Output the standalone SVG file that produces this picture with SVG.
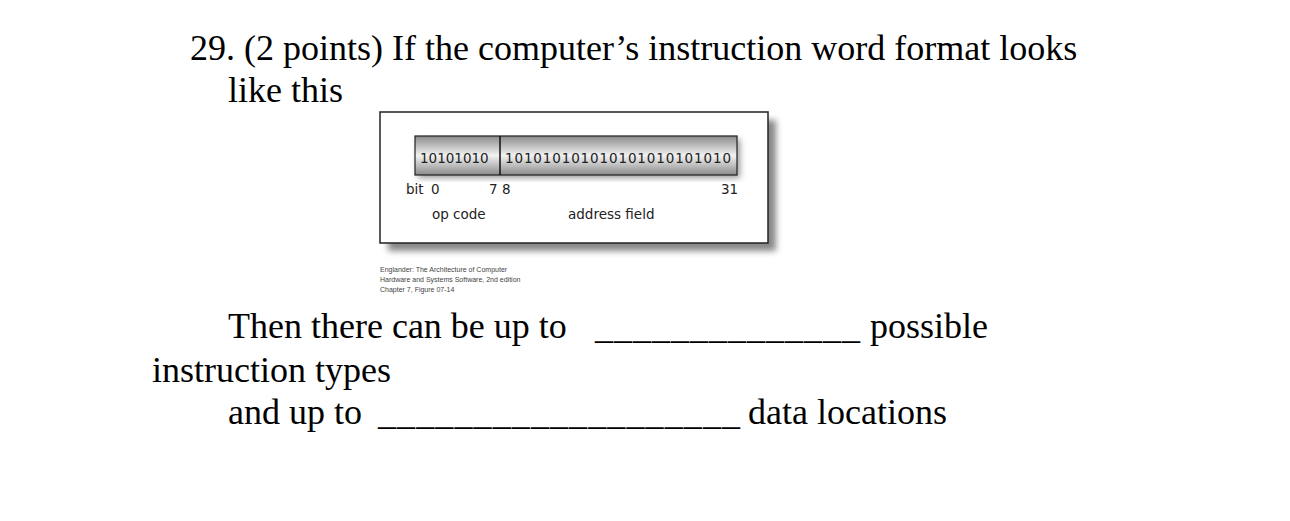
<svg xmlns="http://www.w3.org/2000/svg" width="1290" height="521" viewBox="0 0 1290 521">
<style>
.t{font-family:"Liberation Serif",serif;font-size:36px;fill:#000}
.s{font-family:"DejaVu Sans","Liberation Sans",sans-serif;font-size:13.5px;fill:#222}
.c{font-family:"Liberation Sans",sans-serif;font-size:7px;fill:#444}
</style>
<defs>
<linearGradient id="g" x1="0" y1="0" x2="0" y2="1">
<stop offset="0" stop-color="#8a8a8a"/><stop offset="0.5" stop-color="#f2f2f2"/><stop offset="1" stop-color="#8a8a8a"/>
</linearGradient>
<filter id="blur"><feGaussianBlur stdDeviation="3"/></filter>
</defs>
<rect width="1290" height="521" fill="#fff"/>
<text class="t" x="190" y="60">29. (2 points) If the computer’s instruction word format looks</text>
<text class="t" x="228" y="102">like this</text>
<g id="figure">
<rect x="388" y="120" width="388" height="131" fill="#888" filter="url(#blur)"/>
<rect x="380" y="112" width="388" height="131" fill="#fff" stroke="#222" stroke-width="1.5"/>
<rect x="418" y="139" width="322" height="39" fill="#999" filter="url(#blur)"/>
<rect x="415" y="136" width="322" height="39" fill="url(#g)" stroke="#222" stroke-width="1.2"/>
<line x1="500" y1="136" x2="500" y2="175" stroke="#111" stroke-width="1.5"/>
<text class="s" x="420" y="163">10101010</text>
<text class="s" x="505" y="163" textLength="226">101010101010101010101010</text>
<text class="s" x="406" y="194">bit</text>
<text class="s" x="431" y="194">0</text>
<text class="s" x="489" y="194">7</text>
<text class="s" x="502" y="194">8</text>
<text class="s" x="721" y="194">31</text>
<text class="s" x="432" y="219">op code</text>
<text class="s" x="568" y="219">address field</text>
<text class="c" x="380" y="272">Englander: The Architecture of Computer</text>
<text class="c" x="380" y="282">Hardware and Systems Software, 2nd edition</text>
<text class="c" x="380" y="292">Chapter 7, Figure 07-14</text>
</g>
<text class="t" x="228" y="338">Then there can be up to</text>
<text class="t" x="595" y="338" textLength="265">______________</text>
<text class="t" x="870" y="338">possible</text>
<text class="t" x="152" y="382">instruction types</text>
<text class="t" x="228" y="424">and up to</text>
<text class="t" x="378" y="424" textLength="362">___________________</text>
<text class="t" x="748" y="424">data locations</text>
</svg>
